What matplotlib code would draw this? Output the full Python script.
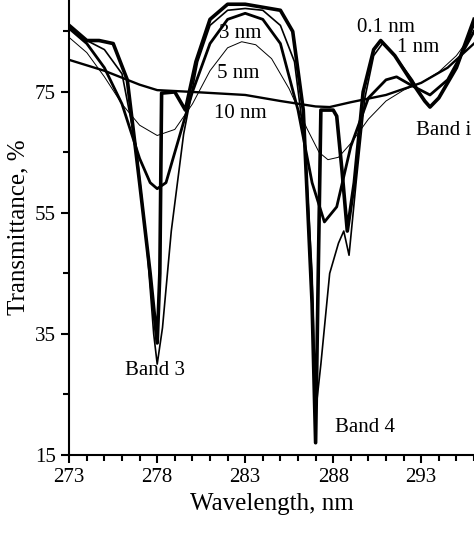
import numpy as np
import matplotlib.pyplot as plt

plt.rcParams['font.family'] = ['Liberation Serif', 'DejaVu Serif']

# 各分辨率下的透射光谱
x_01 = [273, 274, 274.7, 275.5, 276.3, 277, 277.6, 278, 278.15, 278.25, 279, 279.6, 280.2,
        281, 282, 283, 284, 285, 285.7, 286.3, 286.8, 287, 287.15, 287.3, 288, 288.2,
        288.5, 288.8, 289.2, 289.7, 290.3, 290.7, 291.5, 292.5, 293.2, 293.5, 294, 295, 296]
y_01 = [86, 83.5, 83.5, 83, 77, 60, 45, 33.5, 45, 74.8, 75, 72, 80,
        87, 89.5, 89.5, 89, 88.5, 85, 72, 40, 17, 45, 72, 72, 71,
        62, 52, 60, 75, 82, 83.5, 81, 76.5, 73.5, 72.5, 74, 79, 87]

x_1 = [273, 274, 275, 276, 276.8, 277.4, 277.8, 278, 278.3, 278.8, 279.5, 280.3, 281,
       282, 283, 284, 285, 285.8, 286.4, 286.8, 287, 287.3, 287.8, 288.3, 288.6, 288.9,
       289.3, 289.8, 290.3, 290.8, 291.5, 292.5, 293.2, 293.5, 294, 295, 296]
y_1 = [86, 83.5, 82, 78, 66, 50, 35, 30, 36, 52, 68, 80, 86,
       88.5, 88.8, 88.5, 86, 80, 66, 45, 22, 30, 45, 50, 52, 48,
       60, 74, 81, 83, 81, 77, 73.5, 72.5, 74, 79, 86]

x_3 = [273, 274, 275, 276, 277, 277.6, 278, 278.5, 279, 280, 281, 282, 283, 284,
       285, 286, 286.8, 287.5, 288.2, 289, 290, 291, 291.6, 292.5, 293.5, 294.5, 296]
y_3 = [85.5, 83, 79, 73, 64, 60, 59, 60, 65, 75, 83, 87, 88, 87,
       83, 72, 60, 53.5, 56, 66, 74, 77, 77.5, 76, 74.5, 77, 85]

x_5 = [273, 274, 275, 276, 277, 278, 279, 280, 281, 282, 282.8, 283.6, 284.5, 285.5,
       286.5, 287.2, 287.7, 288.3, 289, 290, 291, 292, 293, 294, 295, 296]
y_5 = [84, 81.5, 77.5, 73, 69.5, 67.8, 68.8, 73, 78.5, 82.3, 83.3, 82.8, 80.5, 75.5,
       69, 65, 63.8, 64.2, 66.5, 70.5, 73.5, 75.3, 76.5, 78.3, 81, 85]

x_10 = [273, 275, 277, 278, 280, 283, 285, 287, 287.8, 289, 291, 293, 294.5, 296]
y_10 = [80.3, 78.5, 76.2, 75.3, 75, 74.5, 73.5, 72.6, 72.5, 73.3, 74.5, 76.5, 79, 83]

fig = plt.figure(figsize=(4.74, 5.37), dpi=100)
ax = fig.add_axes([0.146, 0.153, 0.854, 0.847])

ax.plot(x_5, y_5, color='black', lw=0.7)
ax.plot(x_1, y_1, color='black', lw=1.2)
ax.plot(x_10, y_10, color='black', lw=1.7)
ax.plot(x_3, y_3, color='black', lw=2.0)
ax.plot(x_01, y_01, color='black', lw=2.6)

ax.set_xlim(273, 296)
ax.set_ylim(15, 90.2)
ax.set_xticks([273, 278, 283, 288, 293])
ax.set_xticks(np.arange(273, 297, 1), minor=True)
ax.set_yticks([15, 35, 55, 75])
ax.set_yticks([25, 45, 65, 85], minor=True)
ax.tick_params(direction='out', length=6, width=1.5, labelsize=15)
ax.tick_params(which='minor', direction='out', length=4, width=1.5)
for s in ['top', 'right']:
    ax.spines[s].set_visible(False)
for s in ['left', 'bottom']:
    ax.spines[s].set_linewidth(1.5)

ax.set_xlabel('Wavelength, nm', fontsize=18)
ax.set_ylabel('Transmittance, %', fontsize=18)

kw = dict(fontsize=15, ha='center', va='center')
ax.text(291, 85.7, '0.1 nm', **kw)
ax.text(292.8, 82.3, '1 nm', **kw)
ax.text(282.7, 84.7, '3 nm', **kw)
ax.text(282.6, 78.1, '5 nm', **kw)
ax.text(282.7, 71.5, '10 nm', **kw)
ax.text(294.3, 68.7, 'Band i', **kw)
ax.text(277.9, 29, 'Band 3', **kw)
ax.text(289.8, 19.5, 'Band 4', **kw)

fig.savefig('out.png', dpi=100)
